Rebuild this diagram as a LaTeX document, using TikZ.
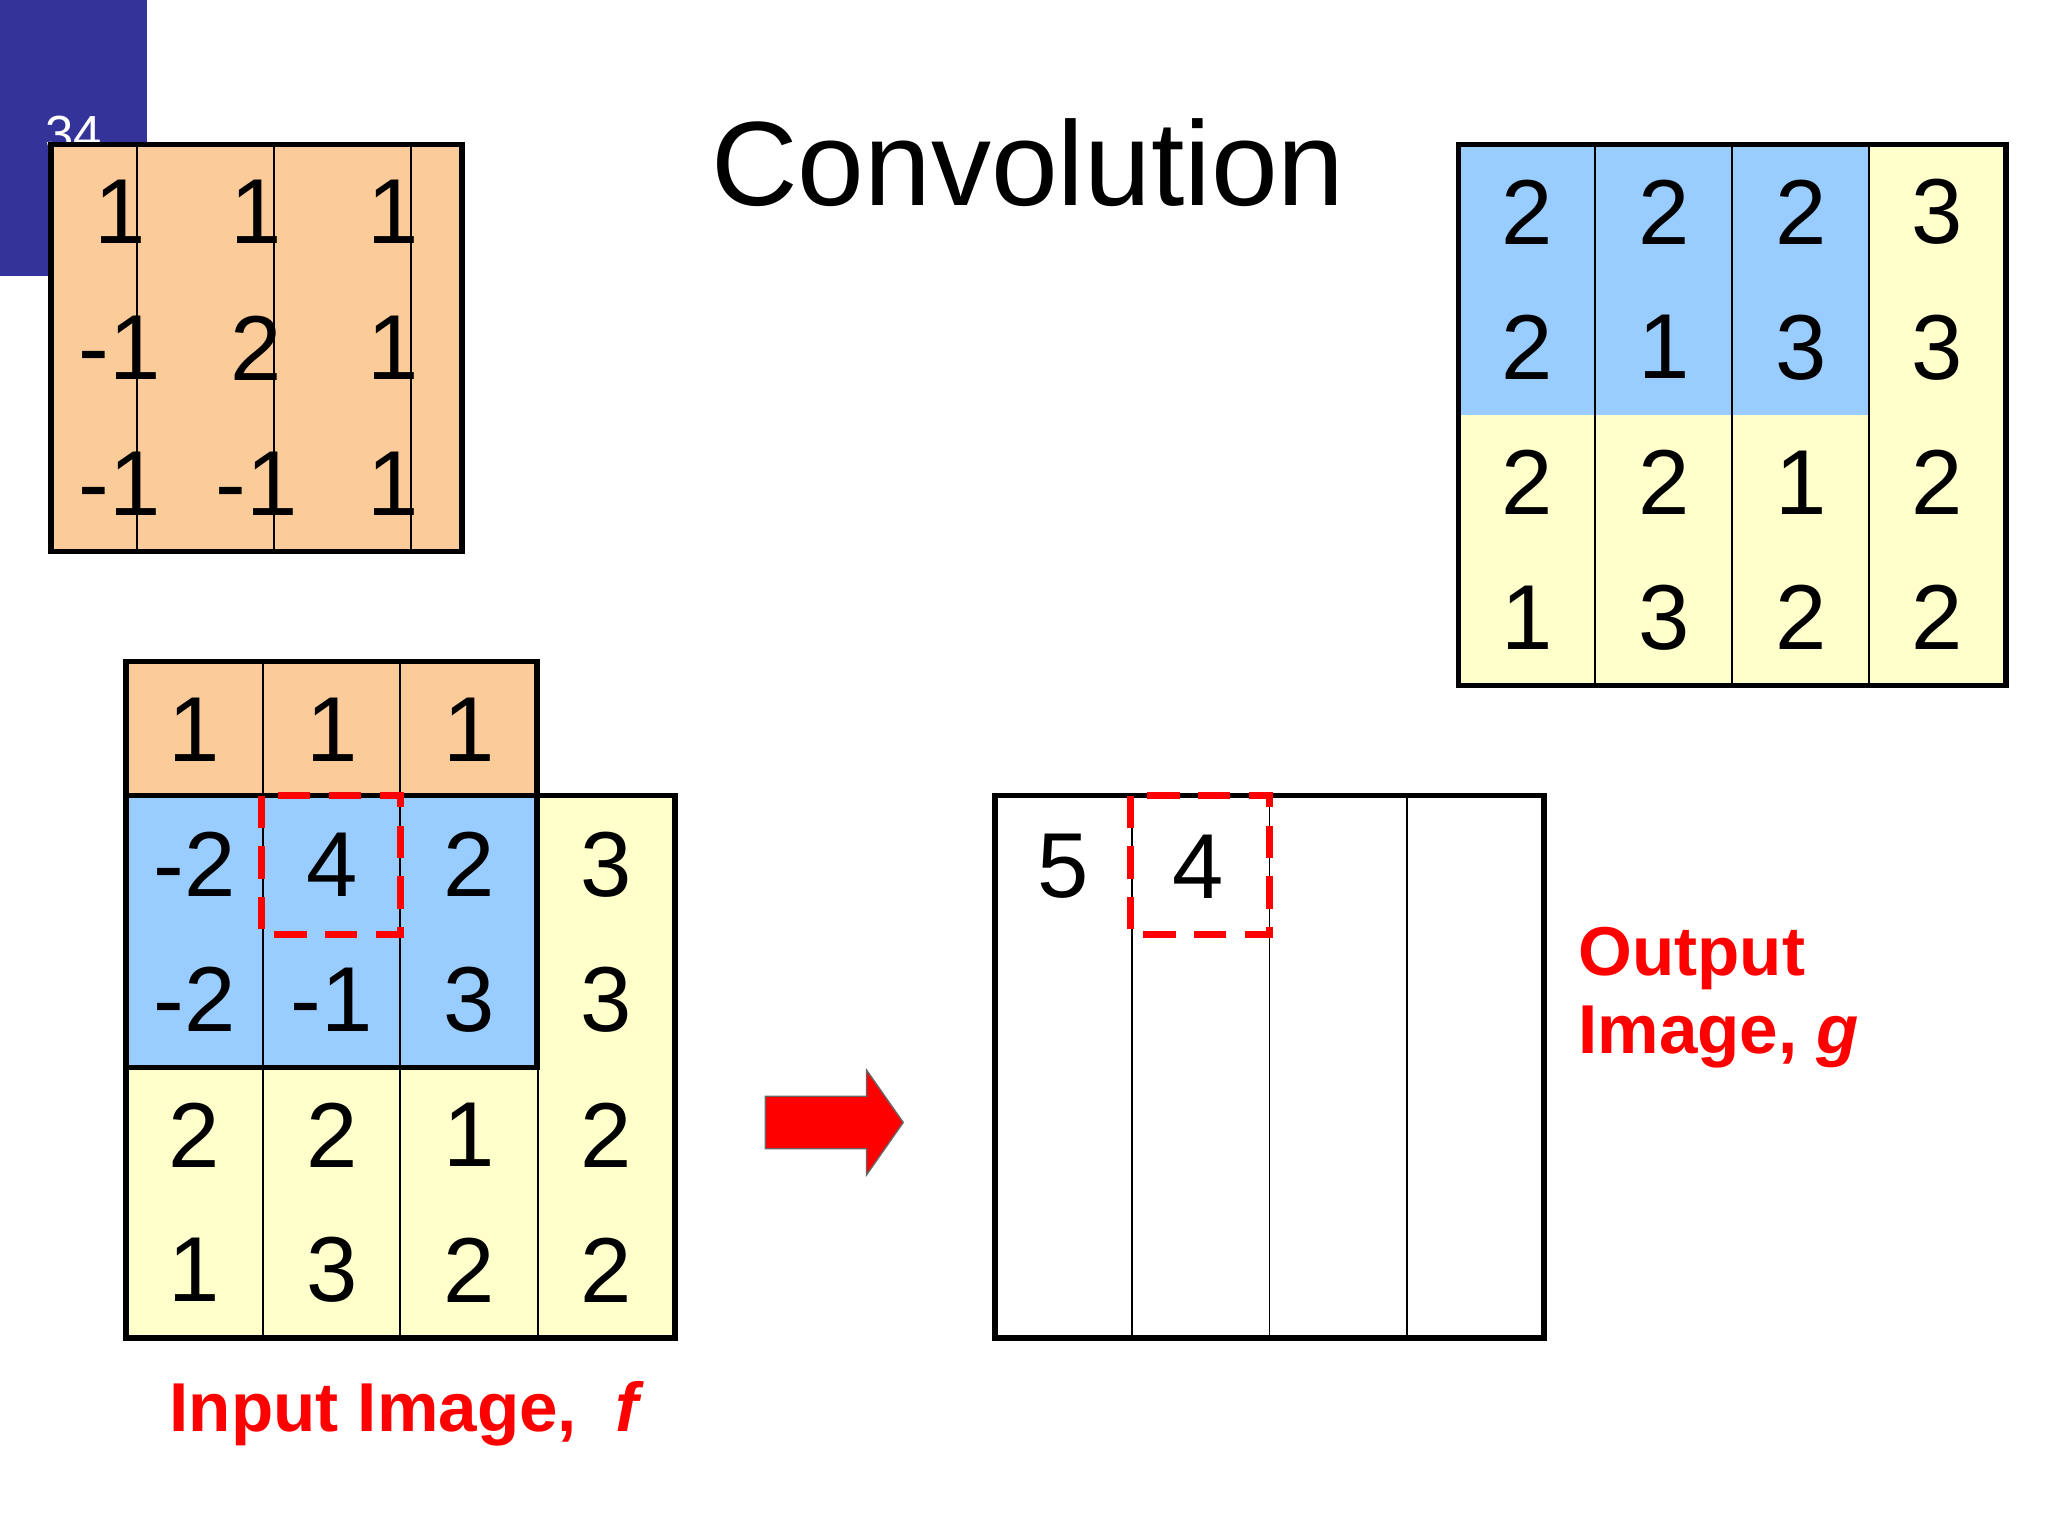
\documentclass[tikz,border=0pt]{standalone}
\usepackage{fontspec}
\setmainfont{Liberation Sans}
\definecolor{peach}{HTML}{FBCB9A}
\definecolor{lblue}{HTML}{99CCFF}
\definecolor{lyel}{HTML}{FFFFCC}
\definecolor{navy}{HTML}{333399}
\begin{document}
\begin{tikzpicture}[x=0.02cm,y=-0.02cm,
  num/.style={font=\fontsize{40}{40}\selectfont},
  lbl/.style={text=red,font=\bfseries\fontsize{30}{34}\selectfont},
  thin/.style={line width=0.8pt},
  thick/.style={line width=2.4pt},
  reddash/.style={draw=red,line width=3pt,dash pattern=on 14pt off 8pt}]
\useasboundingbox (0,0) rectangle (1560,1170);
% slide number box
\fill[navy] (0,0) rectangle (112,210);
\node[text=white,font=\fontsize{22}{22}\selectfont] (pg) at (56,102) {34};
% kernel
\def\c{104.33}
\fill[peach] (39,110) rectangle ++(313,310);
\foreach \v [count=\i from 0] in {1,1,1,-1,2,1,-1,-1,1}{
  \pgfmathtruncatemacro\r{\i/3}\pgfmathtruncatemacro\cc{mod(\i,3)}
  \node[num] (k\i) at ({39+(\cc+0.5)*104.3},{110+(\r+0.5)*103.3}) {\v};}
\draw[thin] (39,110) grid[xstep=104.33,ystep=103.33] (352,420);
\draw[thick] (39,110) rectangle (352,420);
% title
\node[font=\fontsize{52}{52}\selectfont] (title) at (783,124) {Convolution};
% top-right image
\fill[lyel] (1111,110) rectangle (1528,522);
\fill[lblue] (1111,110) rectangle (1424,316);
\foreach \v [count=\i from 0] in {2,2,2,3,2,1,3,3,2,2,1,2,1,3,2,2}{
  \pgfmathtruncatemacro\r{\i/4}\pgfmathtruncatemacro\cc{mod(\i,4)}
  \node[num] (t\i) at ({1111+(\cc+0.5)*104.25},{110+(\r+0.5)*103}) {\v};}
\begin{scope}[shift={(1111,110)}]
\draw[thin] (0,0) grid[xstep=104.25,ystep=103] (417,412);
\end{scope}
\draw[thick] (1111,110) rectangle (1528,522);
% bottom-left input
\fill[lyel] (96,606) rectangle (514,1019);
\fill[peach] (96,504) rectangle (409,606);
\fill[lblue] (96,606) rectangle (409,813);
\foreach \v [count=\i from 0] in {1,1,1,{},-2,4,2,3,-2,-1,3,3,2,2,1,2,1,3,2,2}{
  \pgfmathtruncatemacro\r{\i/4}\pgfmathtruncatemacro\cc{mod(\i,4)}
  \node[num] (b\i) at ({96+(\cc+0.5)*104.5},{504+(\r+0.5)*103}) {\v};}
\begin{scope}[shift={(96,504)}]
\draw[thin] (0,0) grid[xstep=104.5,ystep=103] (313,103);
\end{scope}
\begin{scope}[shift={(96,606)}]
\draw[thin] (0,0) grid[xstep=104.5,ystep=103.25] (418,413);
\end{scope}
\draw[thick] (96,606) rectangle (514,1019);
\draw[thick] (96,504) rectangle (409,813);
\draw[reddash] (199,606) rectangle (305,712);
\node[lbl] (inl) at (310,1077) {Input Image,\ \ \textit{f}};
% arrow
\fill[red] (583,835) -- (660,835) -- (660,815) -- (688,855) -- (660,895) -- (660,875) -- (583,875) -- cycle;
\draw[black!60,line width=0.6pt] (583,835) -- (660,835) -- (660,815) -- (688,855) -- (660,895) -- (660,875) -- (583,875) -- cycle;
% output
\begin{scope}[shift={(758,606)}]
\draw[thin] (0,0) grid[xstep=104.5,ystep=103.25] (418,413);
\end{scope}
\draw[thick] (758,606) rectangle (1176,1019);
\node[num] (o0) at (810,660) {5};
\node[num] (o1) at (913,660) {4};
\draw[reddash] (861,606) rectangle (967,712);
\node[lbl,anchor=west,align=left] (outl) at (1196,760) {Output\\Image, \textit{g}};
\end{tikzpicture}
\end{document}
